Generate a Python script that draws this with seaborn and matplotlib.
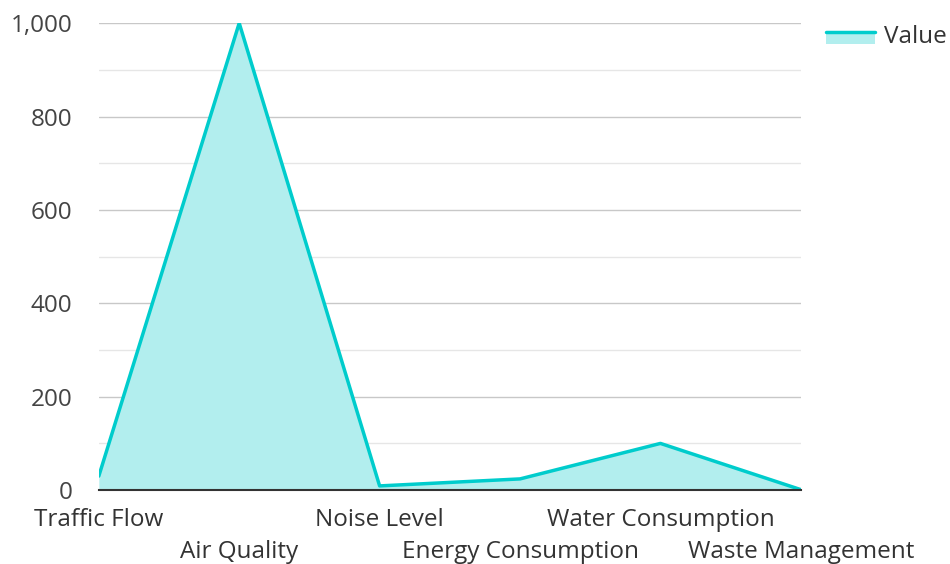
import matplotlib
matplotlib.use("Agg")
import matplotlib.pyplot as plt
import matplotlib.ticker as mticker
from matplotlib.legend_handler import HandlerBase
from matplotlib.patches import Rectangle
from matplotlib.lines import Line2D
import numpy as np
import pandas as pd
import seaborn as sns

# data
categories = ["Traffic Flow", "Air Quality", "Noise Level", "Energy Consumption",
              "Water Consumption", "Waste Management"]
values = [30, 1000, 9, 24, 100, 1]
series_name = "Value"

line_color = "#00CCCC"
fill_color = "#B2EEEE"

sns.set_theme(style="white")
plt.rcParams["font.family"] = ["Open Sans", "DejaVu Sans"]

df = pd.DataFrame({"x": np.arange(len(categories)), "y": values})

fig = plt.figure(figsize=(9.5, 5.64), dpi=100)
ax = fig.add_axes([0.104, 0.131, 0.739, 0.828])

ax.fill_between(df["x"], df["y"], 0, color=fill_color, lw=0, zorder=2)
sns.lineplot(data=df, x="x", y="y", ax=ax, color=line_color, lw=2.5, zorder=3)

ax.set_xlim(0, len(categories) - 1)
ax.set_ylim(0, 1000)
ax.yaxis.set_major_locator(mticker.MultipleLocator(200))
ax.yaxis.set_minor_locator(mticker.MultipleLocator(100))
ax.yaxis.set_major_formatter(mticker.FuncFormatter(lambda v, p: f"{int(v):,}"))
ax.grid(axis="y", which="major", color="#c8c8c8", lw=1, zorder=0)
ax.grid(axis="y", which="minor", color="#e6e6e6", lw=1, zorder=0)
ax.set_axisbelow(True)

for s in ["top", "right", "left"]:
    ax.spines[s].set_visible(False)
ax.spines["bottom"].set_color("#333333")
ax.spines["bottom"].set_linewidth(1.5)
ax.spines["bottom"].set_zorder(4)

ax.tick_params(axis="y", which="both", length=0, labelsize=17.5, labelcolor="#444444", pad=19)
ax.set_xticks(df["x"])
ax.set_xticklabels(categories)
ax.tick_params(axis="x", length=0, labelsize=17.5, labelcolor="#333333", pad=13)
for i, lab in enumerate(ax.get_xticklabels()):
    if i % 2 == 1:
        lab.set_y(-0.068)
ax.set_xlabel("")
ax.set_ylabel("")


class AreaHandler(HandlerBase):
    def create_artists(self, legend, orig_handle, xdescent, ydescent, width, height, fontsize, trans):
        y_line = -ydescent + height * 0.6
        rect = Rectangle((-xdescent, -ydescent - height * 0.05), width, y_line + ydescent + height * 0.05,
                         facecolor=fill_color, edgecolor="none", transform=trans)
        ln = Line2D([-xdescent, -xdescent + width], [y_line, y_line],
                    color=line_color, lw=2.5, transform=trans)
        return [rect, ln]


handle = Rectangle((0, 0), 1, 1)
leg = fig.legend([handle], [series_name], handler_map={Rectangle: AreaHandler()},
                 loc="upper left", bbox_to_anchor=(0.864, 0.965), frameon=False,
                 fontsize=17.5, handlelength=2.05, handleheight=0.8, handletextpad=0.37,
                 borderaxespad=0, borderpad=0.2)
for t in leg.get_texts():
    t.set_color("#333333")

fig.savefig("out.png", dpi=100)
